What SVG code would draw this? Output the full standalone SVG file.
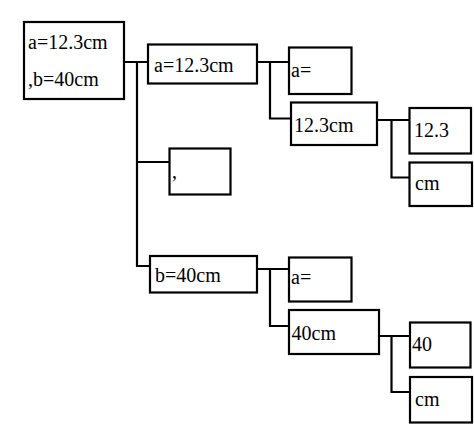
<svg xmlns="http://www.w3.org/2000/svg" width="474" height="446" viewBox="0 0 474 446">
<style>
.box{fill:#fff;stroke:#000;stroke-width:2.2}
text{font-family:'Liberation Serif','Times New Roman','DejaVu Serif',serif;font-size:20px;fill:#000}
.con{fill:none;stroke:#000;stroke-width:2.2}
</style>
<rect width="474" height="446" fill="#fff"/>
<g id="connectors">
<path class="con" d="M124,62 H137 V266 H150 M137,62 H148 M137,162 H169"/>
<path class="con" d="M257,62 H270 V118.5 H291 M270,62 H289"/>
<path class="con" d="M377,120 H409 M391.5,120 V177.5 H409"/>
<path class="con" d="M257,269 H270 V326 H289 M270,269 H289"/>
<path class="con" d="M379,336 H410 M391.5,336 V392 H410"/>
</g>
<g id="n-root"><rect class="box" x="24" y="22" width="100" height="77"/><text x="28" y="49" font-family="Liberation Serif, serif">a=12.3cm</text><text x="28" y="86" font-family="Liberation Serif, serif">,b=40cm</text></g>
<g id="n-a"><rect class="box" x="148" y="44.5" width="109" height="39"/><text x="154" y="72" font-family="Liberation Serif, serif">a=12.3cm</text></g>
<g id="n-comma"><rect class="box" x="169.5" y="148.5" width="61" height="46"/><text x="172" y="178" font-family="Liberation Serif, serif">,</text></g>
<g id="n-b"><rect class="box" x="150" y="256" width="107" height="36.5"/><text x="155" y="282" font-family="Liberation Serif, serif">b=40cm</text></g>
<g id="n-a-eq"><rect class="box" x="289" y="47.5" width="62.5" height="46.5"/><text x="291" y="77" font-family="Liberation Serif, serif">a=</text></g>
<g id="n-123cm"><rect class="box" x="291" y="102.5" width="86" height="42.5"/><text x="294" y="132" font-family="Liberation Serif, serif">12.3cm</text></g>
<g id="n-123"><rect class="box" x="409.5" y="108" width="61.5" height="45.5"/><text x="414" y="136.5" font-family="Liberation Serif, serif">12.3</text></g>
<g id="n-cm1"><rect class="box" x="409.5" y="162.5" width="62.5" height="43.5"/><text x="415" y="189.5" font-family="Liberation Serif, serif">cm</text></g>
<g id="n-b-eq"><rect class="box" x="289" y="257.5" width="62.5" height="44"/><text x="291" y="284" font-family="Liberation Serif, serif">a=</text></g>
<g id="n-40cm"><rect class="box" x="289" y="310" width="90" height="44"/><text x="291.5" y="339.5" font-family="Liberation Serif, serif">40cm</text></g>
<g id="n-40"><rect class="box" x="410" y="322.5" width="60.5" height="45"/><text x="412" y="351" font-family="Liberation Serif, serif">40</text></g>
<g id="n-cm2"><rect class="box" x="410" y="377" width="62" height="45.5"/><text x="415" y="406" font-family="Liberation Serif, serif">cm</text></g>
</svg>
